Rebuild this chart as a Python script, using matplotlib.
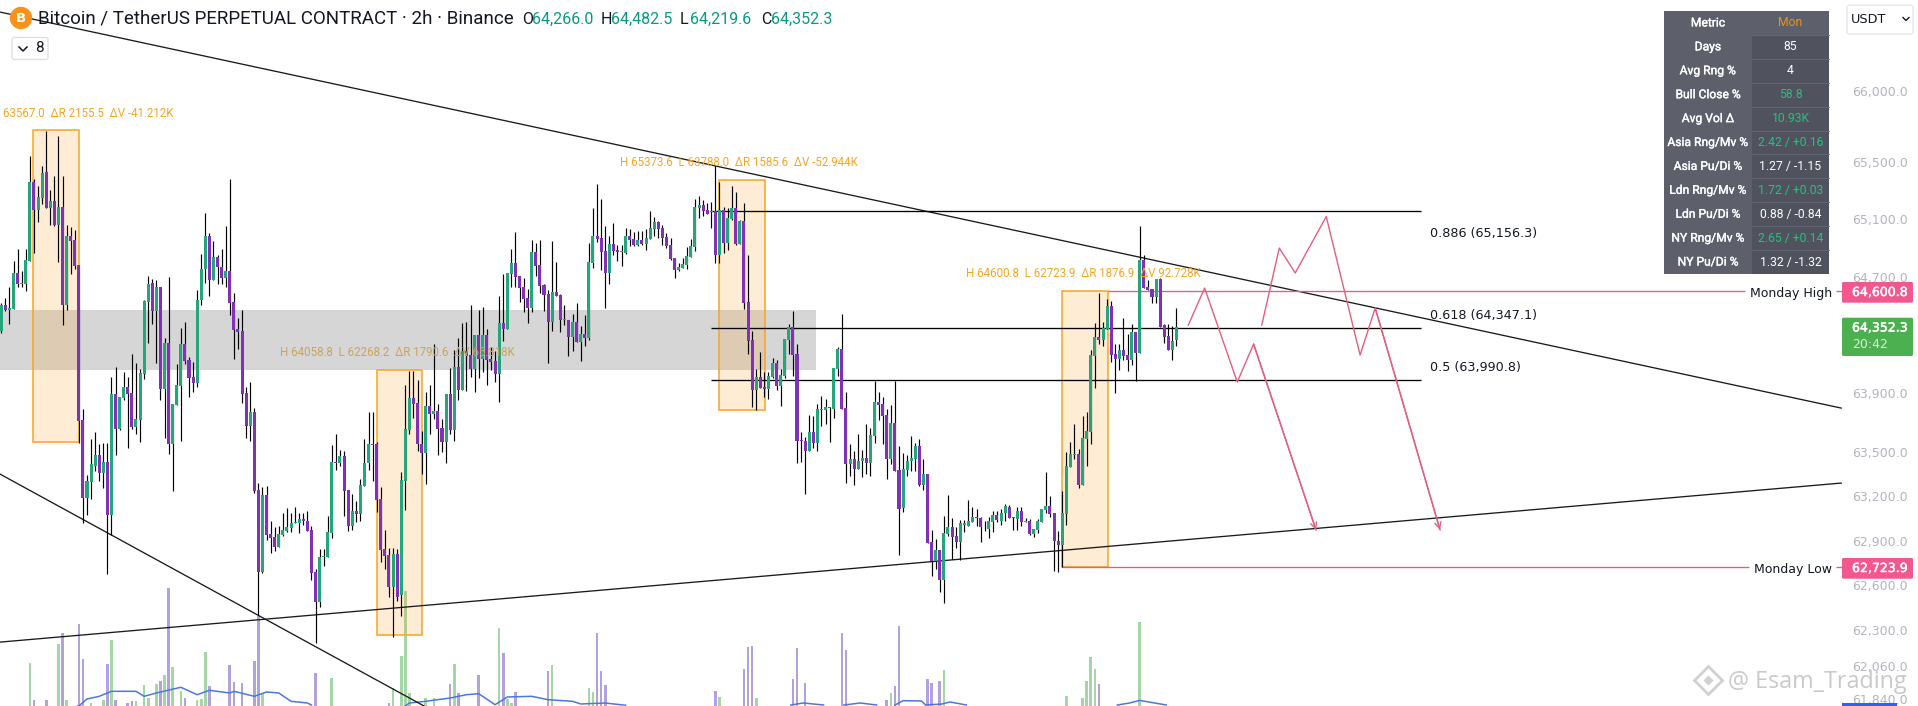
import numpy as np
import matplotlib
matplotlib.use("Agg")
import matplotlib.pyplot as plt
import matplotlib.patheffects as pe
from matplotlib.patches import Rectangle, FancyBboxPatch, Circle
from matplotlib.ticker import FuncFormatter, NullLocator

# candles: G = up, P = down
dirs = ("GPGGPGGGPG" "GPGPGPGPPP" "PGGGPGPGPG" "GPPGGGGPGP" "GPGGGPPPGG" "GPGPPGPPPP"
        "PGPPGPPPGG" "GGGGPPPPGG" "GGPGPPGPGG" "GPPPPPGPGG" "GPPPGPGPPG" "PGPGPPGPGP"
        "PPGPGGPPPP" "GPPPPGPPGP" "GPGPGGPPPG" "PPGGPPGPGG" "GPPPPPGGGG" "GGPPGPGPGG"
        "PGPPPGPPGG" "PGGGPPPPGP" "GGGPGGPPGP" "GGPGGPPPGP" "PGGGGPGPPG" "PGGPPGGGGP"
        "PPGGPGGPPG" "PGPGGGGPPP" "GGGGPGGGGP" "GGPPGPPGPG" "PPPGPPPGG")

highs = [64517,64552,64627,64808,64896,64740,64891,65542,65381,65335,
         65473,65719,65308,65403,65684,65403,65060,65049,65026,64781,
         63793,63341,63586,63635,63553,63559,63559,64013,64082,63876,
         64048,64013,64169,64107,64066,64540,64705,64685,64678,64630,
         64279,64698,63828,64100,64348,64389,64148,64114,64609,64861,
         65147,65005,64946,64849,64895,65053,65382,64588,64416,64471,
         63944,63979,63800,63290,63262,63269,63035,62994,63001,63084,
         63118,63084,63125,63084,63084,63097,63001,62711,62842,62842,
         63063,63544,63620,63510,63503,63242,63214,63166,63317,63587,
         63772,63772,63566,63262,62974,62849,62849,62842,63364,63958,
         64054,64054,63992,63642,63910,63958,64237,63827,63724,63896,
         64072,64196,64278,64381,64388,64505,64299,64471,64492,64340,
         64216,64189,64567,64719,64725,64891,65014,64705,64691,64615,
         64959,64932,64959,64650,64609,64952,64801,64581,64505,64402,
         64443,64519,64361,64437,64932,65177,65349,65239,65051,64987,
         65074,64918,64918,65039,65032,65012,65019,65019,65032,65156,
         65115,65087,65060,65005,64973,64829,64794,64829,64904,64966,
         65239,65266,65232,65211,65218,65479,65363,65184,65177,65335,
         65294,65094,65211,64850,64327,64065,64182,64045,64045,64141,
         64127,64065,64272,64375,64464,64237,63635,63601,63752,63745,
         63828,63883,63862,63807,64072,64217,64444,63910,63552,63503,
         63621,63510,63690,63662,63983,63910,63876,63793,63821,63983,
         63539,63490,63476,63607,63559,63587,63448,63352,62974,62912,
         62835,63063,63208,63049,62994,63036,63036,63173,63125,63111,
         63056,63029,63056,63098,63098,63111,63145,63139,63056,63125,
         63125,63049,63042,62980,63042,63111,63366,63201,63084,62967,
         63235,63496,63566,63690,63518,63745,63772,64196,64381,64588,
         64388,64547,64533,64237,64237,64416,64306,64375,64320,65053,
         64849,64677,64615,64684,64691,64375,64375,64361,64482]

lows = [64315,64464,64375,64481,64630,64632,64604,64808,64863,65083,
        65205,65177,65060,65053,64804,64368,64471,64719,64753,63557,
        63020,63070,63180,63368,63304,63258,62676,62940,63476,63648,
        63853,63524,63656,63621,63569,64000,64244,64375,64107,63855,
        63594,63483,63231,63821,63573,64100,63876,63910,63945,64505,
        64661,64567,64677,64654,64654,64631,64437,64134,64203,63834,
        63593,63573,63221,62401,62683,62905,62814,62828,62856,62932,
        62960,62960,63015,62953,63008,62967,62635,62215,62456,62732,
        62787,62919,63379,63407,63063,62967,62974,63022,63035,63269,
        63379,63304,63091,62753,62711,62518,62256,62496,62394,63107,
        63621,63731,63503,63352,63283,63621,63724,63476,63496,63427,
        63621,63573,63855,63924,63917,64010,63910,64003,64044,63958,
        64058,63979,63841,64258,64340,64629,64629,64526,64457,64381,
        64457,64705,64588,64464,64106,64326,64567,64320,64368,64154,
        64189,64251,64120,64223,64265,64760,64939,64746,64485,64650,
        64850,64808,64774,64856,64911,64911,64911,64918,64884,64966,
        64987,64973,64918,64898,64815,64691,64739,64760,64753,64836,
        64877,65108,65122,65136,65039,64794,64794,64863,64884,65094,
        64918,64925,64478,64168,63807,63786,63938,63876,63862,64003,
        63924,63814,64003,64168,64017,63421,63428,63215,63503,63524,
        63503,63676,63690,63566,63731,64020,63793,63290,63338,63276,
        63386,63331,63352,63338,63559,63718,63552,63318,63414,63373,
        62801,63091,63338,63373,63373,63269,63242,62884,62663,62712,
        62552,62484,62933,62773,62849,62766,62960,63001,63022,63001,
        62890,62967,62919,62960,63022,63008,63035,63049,62974,62974,
        63001,63022,62939,62925,62953,63028,63084,63056,62697,62690,
        62725,63008,63400,63448,63256,63276,63407,63552,63937,64237,
        64223,64340,64113,63899,64058,64127,64051,64093,63985,64175,
        64622,64608,64519,64519,64354,64244,64196,64127,64220]

body_hi = [64506,64506,64485,64726,64726,64657,64815,65363,65363,65253,
           65425,65431,65225,65225,65184,65184,64987,64987,64953,64781,
           63718,63304,63414,63476,63476,63428,63428,63897,63897,63876,
           63945,63945,63903,63725,64041,64533,64650,64657,64630,64630,
           64244,64244,63828,63958,64237,64237,64127,64013,64540,64758,
           64987,64987,64836,64836,64767,64739,64739,64526,64340,64326,
           63903,63772,63772,63242,63207,63207,62946,62925,62946,62974,
           62994,63015,63022,63042,63042,63035,62974,62690,62787,62794,
           62960,63434,63434,63469,63469,63242,63097,63097,63276,63427,
           63552,63552,63551,63180,62842,62801,62808,62808,63311,63655,
           63869,63869,63834,63552,63814,63814,63779,63779,63662,63896,
           63896,64079,64079,64189,64189,64161,64299,64299,64299,64299,
           64134,64120,64381,64381,64725,64794,64794,64705,64629,64553,
           64870,64870,64781,64643,64581,64595,64595,64574,64409,64402,
           64388,64388,64306,64306,64801,64987,64987,64973,64877,64925,
           64925,64884,64877,64987,64987,64960,64953,64953,64973,65039,
           65080,65080,65039,64980,64918,64829,64767,64788,64843,64911,
           65184,65197,65197,65163,65156,65156,65163,65163,65108,65177,
           65177,65087,65087,64526,64265,64010,64010,63945,64020,64107,
           64107,64027,64272,64354,64354,64168,63580,63573,63635,63635,
           63793,63793,63807,63807,64072,64203,64203,63800,63448,63448,
           63441,63455,63455,63614,63841,63841,63828,63752,63697,63697,
           63380,63386,63441,63455,63539,63539,63352,63352,62890,62835,
           62835,62953,62988,62988,62933,63015,63015,63029,63056,63056,
           63049,62994,63029,63070,63070,63088,63132,63125,63056,63097,
           63097,63035,63035,62980,63035,63111,63132,63132,63084,62898,
           63084,63407,63483,63483,63483,63593,63641,64161,64285,64285,
           64347,64498,64498,64168,64196,64196,64161,64320,64320,64815,
           64815,64629,64615,64684,64684,64368,64292,64258,64352]

body_lo = [64329,64469,64474,64481,64650,64650,64650,64808,65163,65163,
           65246,65177,65177,65060,65060,64506,64506,64946,64774,63711,
           63187,63187,63297,63407,63359,63359,63070,63070,63656,63656,
           63869,63897,63670,63670,63718,64031,64529,64464,64464,63931,
           63931,63553,63553,63821,63952,64121,64007,63972,63972,64540,
           64753,64677,64677,64767,64691,64691,64519,64333,64320,63896,
           63676,63676,63235,62690,62690,62939,62918,62856,62856,62939,
           62967,62987,63015,63015,63029,62967,62683,62490,62490,62787,
           62787,62953,63421,63421,63235,63001,63001,63077,63077,63269,
           63421,63544,63173,62835,62794,62586,62586,62518,62532,63304,
           63648,63827,63551,63489,63489,63759,63759,63655,63566,63566,
           63648,63648,63924,63924,64155,64065,64065,64134,64134,64127,
           64113,64031,64031,64340,64340,64719,64698,64622,64547,64485,
           64485,64774,64636,64574,64388,64388,64567,64402,64402,64285,
           64285,64251,64251,64278,64278,64794,64966,64870,64726,64726,
           64877,64870,64870,64863,64953,64918,64918,64925,64925,64966,
           65032,65032,64973,64911,64822,64746,64746,64760,64781,64836,
           64904,65177,65156,65136,65149,64850,64850,64932,64932,65101,
           64925,64925,64519,64258,63924,63924,63938,63931,63931,64013,
           63951,63951,64020,64265,64162,63573,63573,63503,63503,63559,
           63559,63786,63786,63800,63793,64065,63793,63414,63414,63386,
           63386,63435,63421,63421,63607,63821,63745,63448,63448,63373,
           63111,63118,63380,63435,63448,63276,63276,62884,62760,62760,
           62635,62635,62946,62926,62890,62890,63008,63001,63022,63049,
           62988,62988,62981,63022,63036,63035,63084,63049,63049,63042,
           63022,63028,62946,62946,62973,63028,63104,63077,62897,62869,
           62869,63077,63400,63476,63276,63276,63586,63635,64154,64265,
           64265,64340,64161,64134,64134,64154,64127,64127,64175,64175,
           64622,64608,64560,64560,64354,64285,64196,64196,64266]

# volume bars that stick up into the picture (relative height), the rest sit below the edge
vol_idx = [7,8,11,14,15,16,19,20,22,25,26,27,28,31,32,33,35,36,38,39,40,41,42,44,45,48,49,50,51,
           56,57,59,62,63,64,77,81,95,96,98,99,100,104,106,110,111,112,117,122,123,124,125,126,
           134,135,144,145,146,147,148,175,176,182,183,184,185,194,195,197,206,207,217,218,219,220,
           227,228,230,231,261,265,266,267,268,269,279]
vol_val = [4.3,0.6,0.6,6.2,7.3,0.6,8.2,4.7,0.3,0.6,4.2,6.6,0.6,0.3,0.5,0.5,2.1,0.8,2.2,2.5,3.1,11.8,3.9,1.5,0.8,0.6,0.7,5.4,2.0,
           4.1,2.4,2.3,4.5,9.0,1.3,3.3,2.8,0.3,1.8,5.0,11.5,1.3,0.8,0.8,2.2,4.2,1.3,3.1,7.8,5.3,0.7,0.3,1.4,
           3.5,4.1,1.8,1.4,7.3,3.5,2.1,1.5,0.9,3.7,5.9,6.0,0.8,2.7,5.8,2.3,7.3,5.6,0.6,1.3,2.0,8.0,
           2.7,2.3,2.5,3.6,1.0,0.8,2.5,4.9,3.7,2.2,8.4]
ma_x = [18.7,19,21,24,27,33,35,38,44,48,51,56,57,62,65,68,71,75,76,np.nan,
        99,100,104,110,114,117,121,124,130,134,140,142,148,153,np.nan,
        193.5,196.5,201.5,np.nan,206.5,210.5,214.5,np.nan,219,221,225.5,226.5,230.5,232.5,236.5,np.nan,
        273.5,276.5,279,285.5]
ma_y = [0,0,0.7,0.97,1.47,1.47,0.97,1.3,1.87,1.13,1.57,1.3,1.47,0.97,1.4,1.3,0.47,0.3,0.1,np.nan,
        0,0.3,0.47,0.8,1.13,1.23,0.13,0.9,0.97,0.63,0.47,0.2,0.3,0.07,np.nan,
        0.1,0.3,0.1,np.nan,0.1,0.3,0.1,np.nan,0.1,0.53,0.5,0.1,0.2,0.4,0.1,np.nan,
        0.1,0.3,0.56,0.1]

y_ticks = [66000,65500,65100,64700,63900,63500,63200,62900,62600,62300,62060,61840]

# session boxes: left idx, right idx, high, low, caption
box_left = [7.85,92.0,176.0,260.0]
box_right = [18.97,103.0,187.1,271.1]
box_high = [65722.5,64058.8,65373.6,64600.8]
box_low = [63567.0,62268.2,63788.0,62723.9]
box_text = ["63567.0  ΔR 2155.5  ΔV -41.212K",
            "H 64058.8  L 62268.2  ΔR 1790.6  ΔV 65.818K",
            "H 65373.6  L 63788.0  ΔR 1585.6  ΔV -52.944K",
            "H 64600.8  L 62723.9  ΔR 1876.9  ΔV 92.728K"]

fib_levels = [65156.3,64347.1,63990.8]
fib_names = ["0.886 (65,156.3)","0.618 (64,347.1)","0.5 (63,990.8)"]

monday_high = 64600.8
monday_low = 62723.9
last_price = 64352.3

trend_x = [[-0.32,450.9],[-0.32,450.9],[-0.32,103.6]]
trend_y = [[66560,63798],[62220,63288],[63349,61796]]

zone_top = 64470
zone_bottom = 64058

path_a_x = [290.9,294.9,302.9,306.9,322.2]
path_a_y = [64367,64623,63976,64237,62971]
path_b_x = [308.9,313.2,317.1,324.7,333.0,336.7,352.6]
path_b_y = [64367,64900,64727,65119,64161,64485,62971]

table_left = ["Metric","Days","Avg Rng %","Bull Close %","Avg Vol Δ","Asia Rng/Mv %","Asia Pu/Di %",
              "Ldn Rng/Mv %","Ldn Pu/Di %","NY Rng/Mv %","NY Pu/Di %"]
table_right = ["Mon","85","4","58.8","10.93K","2.42 / +0.16","1.27 / -1.15",
               "1.72 / +0.03","0.88 / -0.84","2.65 / +0.14","1.32 / -1.32"]
table_col = ["#E8921E","white","white","#25C27A","#25C27A","#25C27A","white","#25C27A","white","#25C27A","white"]

GREEN = "#26A57C"
PURPLE = "#8130B8"
ORANGE = "#F5A623"
PINK = "#E35B8A"
FONT = "Roboto"

W, H = 1918, 706
fig = plt.figure(figsize=(W/100, H/100), dpi=100, facecolor="white")
pos = [0, 0, 1842/W, 1]

up = np.array([d == "G" for d in dirs])
xs = np.arange(len(dirs))
highs, lows, body_hi, body_lo = map(np.array, (highs, lows, body_hi, body_lo))

# volume underneath
ax_vol = fig.add_axes(pos, zorder=0)
ax_vol.set_xlim(-0.32, 451.1)
ax_vol.set_ylim(0, 70.6)
ax_vol.axis("off")
vol_cols = ["#A5D6A7" if up[i] else "#B1A2DF" for i in vol_idx]
ax_vol.bar(vol_idx, vol_val, width=0.65, color=vol_cols, linewidth=0)
ax_vol.plot(ma_x, ma_y, color="#4A78E0", lw=1.1)

ax = fig.add_axes(pos, zorder=1)
ax.patch.set_visible(False)
ax.set_yscale("log")
ax.set_xlim(-0.32, 451.1)
ax.set_ylim(61796, 66646)
for s in ax.spines.values():
    s.set_visible(False)
ax.set_xticks([])
ax.yaxis.tick_right()
ax.set_yticks(y_ticks)
ax.yaxis.set_minor_locator(NullLocator())
ax.yaxis.set_major_formatter(FuncFormatter(lambda v, p: f"{v:,.1f}"))
ax.tick_params(axis="y", length=0, pad=7.3, labelsize=9, labelcolor="#B2B5BE")

ax.axhspan(zone_bottom, zone_top, xmin=0, xmax=816/1842, color="#D6D6D6", lw=0, zorder=1)

for l, r, h, lo in zip(box_left, box_right, box_high, box_low):
    ax.add_patch(Rectangle((l, lo), r-l, h-lo, facecolor=(1, 0.6, 0.1, 0.18), edgecolor=ORANGE, lw=1.1, zorder=2))

for x, y in zip(trend_x, trend_y):
    ax.plot(x, y, color="#1A1A1A", lw=0.95, zorder=5)
ax.hlines(fib_levels, 174, 348, color="black", lw=0.95, zorder=5)

ax.hlines(monday_high, 271.1, 427.4, color=PINK, lw=0.95, zorder=5)
ax.hlines(monday_low, 260.0, 428.4, color=PINK, lw=0.95, zorder=5)
ax.hlines([monday_high, monday_low], 449.7, 451.1, color=PINK, lw=0.95, zorder=5)

for px, py in ((path_a_x, path_a_y), (path_b_x, path_b_y)):
    ax.plot(px, py, color="#E2607F", lw=1.0, zorder=6)
    ax.annotate("", xy=(px[-1], py[-1]), xytext=(px[-2], py[-2]), zorder=6,
                arrowprops=dict(arrowstyle="->", color="#E2607F", lw=1.0, mutation_scale=11, shrinkA=0, shrinkB=0))

# candles
ax.vlines(xs, lows, highs, color="black", lw=0.85, zorder=7)
ax.bar(xs[up], (body_hi-body_lo)[up], bottom=body_lo[up], width=0.74, color=GREEN, linewidth=0, zorder=8)
ax.bar(xs[~up], (body_hi-body_lo)[~up], bottom=body_lo[~up], width=0.74, color=PURPLE, linewidth=0, zorder=8)

# everything else sits on a pixel overlay
ui = fig.add_axes([0, 0, 1, 1], zorder=3)
ui.patch.set_visible(False)
ui.set_xlim(0, W)
ui.set_ylim(H, 0)
ui.axis("off")

ui.add_patch(Circle((21, 18), 10.5, color="#F7931A"))
ui.text(21, 18.5, "B", color="white", fontsize=9.5, fontweight="bold", ha="center", va="center")
ui.text(37.5, 18.5, "Bitcoin / TetherUS PERPETUAL CONTRACT · 2h · Binance", family=FONT, fontsize=13.5,
        color="#131722", va="center")
for lx, letter, val in zip([522,601,680,761], "OHLC", ["64,266.0","64,482.5","64,219.6","64,352.3"]):
    ui.text(lx, 19, letter, family=FONT, fontsize=11.5, color="#131722", va="center")
    ui.text(lx+10, 19, val, family=FONT, fontsize=11.5, color="#089981", va="center")

ui.add_patch(FancyBboxPatch((12, 37.5), 36, 22, boxstyle="round,pad=0,rounding_size=2", fc="white", ec="#DDE0E6", lw=1))
ui.plot([19, 23, 27], [47, 51, 47], color="#131722", lw=1.1)
ui.text(39, 48.5, "8", family=FONT, fontsize=11, color="#131722", ha="center", va="center")

for i, (txt, (tx, ty)) in enumerate(zip(box_text, [(3, 113.5), (280, 352), (620, 162), (966.5, 273.5)])):
    ui.text(tx, ty, txt, family=FONT, fontsize=8.3, color="#C9A45C" if i == 1 else ORANGE, va="center")

for name, fy in zip(fib_names, [234, 316, 368]):
    ui.text(1430, fy, name, fontsize=9.2, color="#131722", va="center")

ui.text(1832, 293, "Monday High", fontsize=9.0, color="#131722", ha="right", va="center")
ui.text(1832, 569, "Monday Low", fontsize=9.0, color="#131722", ha="right", va="center")

bold = [pe.withStroke(linewidth=0.35, foreground="white")]
for ty, val in ((282, monday_high), (558, monday_low)):
    ui.add_patch(FancyBboxPatch((1842, ty), 71, 20.7, boxstyle="round,pad=0,rounding_size=1.5", fc="#F0588E", ec="none"))
    ui.text(1852, ty+10.5, f"{val:,.1f}", fontsize=9, color="white", va="center", path_effects=bold)
ui.add_patch(FancyBboxPatch((1842, 317.7), 71, 38.3, boxstyle="round,pad=0,rounding_size=1.5", fc="#4CAF50", ec="none"))
ui.text(1852, 328, f"{last_price:,.1f}", fontsize=9, color="white", va="center", path_effects=bold)
ui.text(1852, 345, "20:42", fontsize=9, color="#D8F0DA", va="center")
ui.add_patch(Rectangle((1842, 703), 55, 4, fc="#2962FF", ec="none"))

ui.add_patch(FancyBboxPatch((1847, 5), 66, 29, boxstyle="round,pad=0,rounding_size=2.5", fc="white", ec="#E6E8EE", lw=1))
ui.text(1851, 19.5, "USDT", fontsize=9.3, color="#131722", va="center")
ui.plot([1903, 1906, 1909], [17.5, 20.5, 17.5], color="#131722", lw=1)

# stats table
row_h = (274-11)/11
ui.add_patch(Rectangle((1664, 11), 165, 263, fc="#5D606B", ec="none"))
ui.add_patch(Rectangle((1752, 11+row_h), 77, 263-row_h, fc="#50535E", ec="none"))
cell_fx = [pe.withStroke(linewidth=0.25, foreground="white")]
for r in range(11):
    ry = 11 + row_h*(r+0.5)
    ui.text(1708, ry, table_left[r], family=FONT, fontsize=8.7, color="white", ha="center", va="center", path_effects=cell_fx)
    ui.text(1790.5, ry, table_right[r], family=FONT, fontsize=8.7, color=table_col[r], ha="center", va="center")
    if r:
        ui.plot([1752, 1829], [11+row_h*r]*2, color="#666974", lw=0.6)

# watermark
ui.text(1728, 682, "@ Esam_Trading", family="Open Sans", fontsize=16.8, color="#C4C4C4", va="center", alpha=0.9)
ui.plot([1708], [680], marker="D", ms=14, mfc="none", mec="#D0D0D0", mew=2)
ui.plot([1708], [680], marker="D", ms=5, mfc="#D0D0D0", mec="none")

fig.savefig("out.png", dpi=100)
